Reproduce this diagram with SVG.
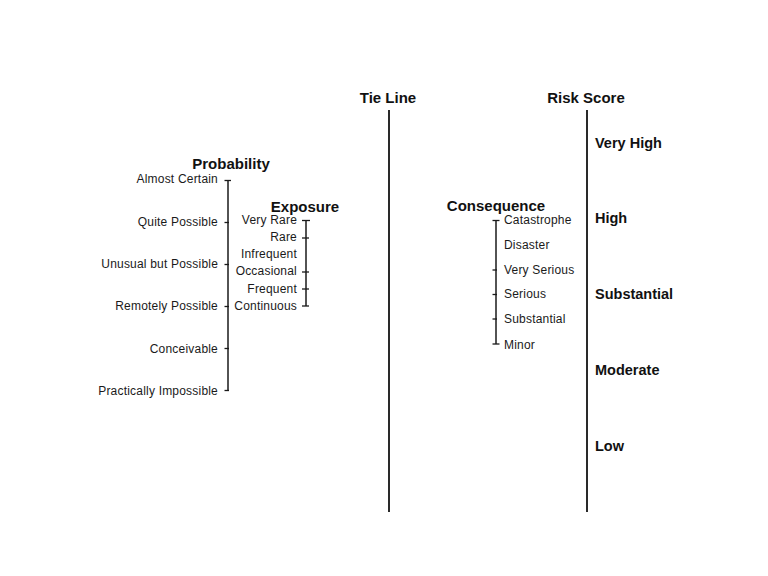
<svg xmlns="http://www.w3.org/2000/svg" width="768" height="576" viewBox="0 0 768 576">
<style>
.bg{fill:#ffffff}
.axis{stroke:#1a1a1a;stroke-width:1.5;fill:none}
.big{stroke:#2a2a2a;stroke-width:2;fill:none}
.tick{stroke:#1a1a1a;stroke-width:1.3}
.lbl{font-family:"Liberation Sans",Arial,sans-serif;font-size:12px;letter-spacing:0.2px;fill:#1a1a1a}
.end{text-anchor:end}
.head{font-family:"Liberation Sans",Arial,sans-serif;font-size:15px;font-weight:bold;fill:#111}
.risk{font-family:"Liberation Sans",Arial,sans-serif;font-size:14.5px;font-weight:bold;fill:#111}
</style>
<rect class="bg" x="0" y="0" width="768" height="576"/>

<g id="probability">
  <text class="head" x="231" y="169" text-anchor="middle">Probability</text>
  <line class="axis" x1="228" y1="180.5" x2="228" y2="390.5"/>
  <line class="tick" x1="224.5" y1="180.5" x2="231" y2="180.5"/>
  <line class="tick" x1="224.5" y1="222.5" x2="229" y2="222.5"/>
  <line class="tick" x1="224.5" y1="264.5" x2="229" y2="264.5"/>
  <line class="tick" x1="224.5" y1="306.5" x2="229" y2="306.5"/>
  <line class="tick" x1="224.5" y1="348.5" x2="229" y2="348.5"/>
  <line class="tick" x1="224.5" y1="390.5" x2="229" y2="390.5"/>
  <text class="lbl end" x="218" y="183">Almost Certain</text>
  <text class="lbl end" x="218" y="226">Quite Possible</text>
  <text class="lbl end" x="218" y="268">Unusual but Possible</text>
  <text class="lbl end" x="218" y="310">Remotely Possible</text>
  <text class="lbl end" x="218" y="353">Conceivable</text>
  <text class="lbl end" x="218" y="395">Practically Impossible</text>
</g>

<g id="exposure">
  <text class="head" x="305" y="212" text-anchor="middle">Exposure</text>
  <line class="axis" x1="306" y1="220.5" x2="306" y2="306"/>
  <line class="tick" x1="302" y1="220.5" x2="310" y2="220.5"/>
  <line class="tick" x1="302" y1="238" x2="309" y2="238"/>
  <line class="tick" x1="302" y1="272" x2="309" y2="272"/>
  <line class="tick" x1="302" y1="289" x2="309" y2="289"/>
  <line class="tick" x1="302" y1="306" x2="309" y2="306"/>
  <text class="lbl end" x="297" y="224">Very Rare</text>
  <text class="lbl end" x="297" y="241">Rare</text>
  <text class="lbl end" x="297" y="258">Infrequent</text>
  <text class="lbl end" x="297" y="275">Occasional</text>
  <text class="lbl end" x="297" y="293">Frequent</text>
  <text class="lbl end" x="297" y="310">Continuous</text>
</g>

<g id="tie-line">
  <text class="head" x="388" y="103" text-anchor="middle">Tie Line</text>
  <line class="big" x1="389" y1="110" x2="389" y2="512"/>
</g>

<g id="consequence">
  <text class="head" x="496" y="211" text-anchor="middle">Consequence</text>
  <line class="axis" x1="496" y1="220.5" x2="496" y2="344"/>
  <line class="tick" x1="492.5" y1="220.5" x2="499.5" y2="220.5"/>
  <line class="tick" x1="492.5" y1="270" x2="497" y2="270"/>
  <line class="tick" x1="492.5" y1="294.5" x2="497" y2="294.5"/>
  <line class="tick" x1="492.5" y1="319" x2="497" y2="319"/>
  <line class="tick" x1="492.5" y1="344" x2="499.5" y2="344"/>
  <text class="lbl" x="504" y="224">Catastrophe</text>
  <text class="lbl" x="504" y="249">Disaster</text>
  <text class="lbl" x="504" y="274">Very Serious</text>
  <text class="lbl" x="504" y="298">Serious</text>
  <text class="lbl" x="504" y="323">Substantial</text>
  <text class="lbl" x="504" y="349">Minor</text>
</g>

<g id="risk-score">
  <text class="head" x="586" y="103" text-anchor="middle">Risk Score</text>
  <line class="big" x1="587" y1="110" x2="587" y2="512"/>
  <text class="risk" x="595" y="148">Very High</text>
  <text class="risk" x="595" y="223">High</text>
  <text class="risk" x="595" y="299">Substantial</text>
  <text class="risk" x="595" y="375">Moderate</text>
  <text class="risk" x="595" y="451">Low</text>
</g>

<g id="connectors"></g>
</svg>
